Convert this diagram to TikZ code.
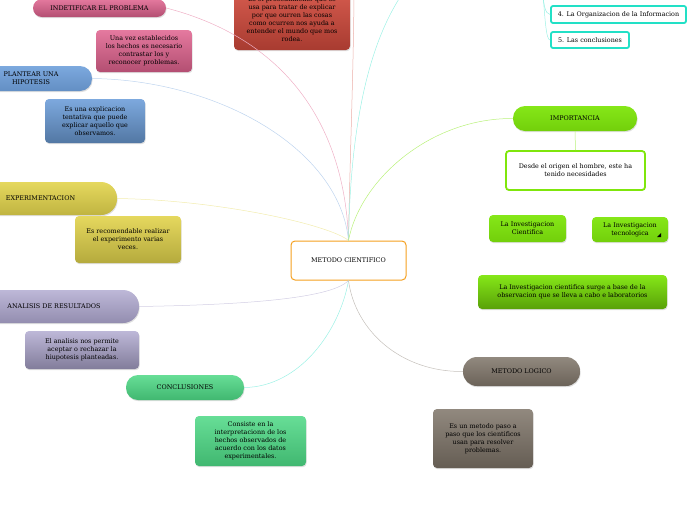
\documentclass[tikz,border=0pt]{standalone}
\usepackage{fontspec}
\setmainfont{DejaVu Serif}
\usetikzlibrary{shadows}

\definecolor{rosa}{HTML}{E0628E}
\definecolor{rojo}{HTML}{D24A3C}
\definecolor{azul}{HTML}{6E9FDA}
\definecolor{amarillo}{HTML}{E2D44C}
\definecolor{lila}{HTML}{ADA6CE}
\definecolor{verde}{HTML}{4CD884}
\definecolor{lima}{HTML}{7FE60C}
\definecolor{topo}{HTML}{7E7468}
\definecolor{turquesa}{HTML}{22E0C6}
\definecolor{naranja}{HTML}{F5A020}

\begin{document}
\begin{tikzpicture}[x=1pt,y=-1pt,
    font=\fontsize{6.4}{8}\selectfont,
    rama/.style={inner sep=0pt, align=center,
      drop shadow={opacity=0.25, shadow xshift=0.6pt, shadow yshift=-1.2pt}},
    detalle/.style={rama, rounded corners=4pt},
    hilo/.style={line width=0.5pt}]

    \useasboundingbox (0,0) rectangle (696,520);
    \clip (0,0) rectangle (696,520);

    % Connector anchors outside the page
    \coordinate (defin-in) at (354,-20);
    \coordinate (partes) at (542,-20);

    % Main node
    \node[draw=naranja, line width=1pt, fill=white, rounded corners=4pt,
          minimum width=115, minimum height=39, inner sep=0pt] (metodo) at (348.5,260.5) {METODO CIENTIFICO};

    % Left branches
    \node[rama, top color=rosa!85!white, bottom color=rosa!80!black, rounded corners=9pt,
          minimum width=133, minimum height=18] (ident) at (99.5,8) {INDETIFICAR EL PROBLEMA};
    \node[detalle, top color=rosa!85!white, bottom color=rosa!80!black,
          minimum width=96, minimum height=42] (hechos) at (144,51)
          {Una vez establecidos\\los hechos es necesario\\contrastar los y\\reconocer problemas.};

    \node[rama, top color=azul!90!white, bottom color=azul!90!black, rounded corners=12pt,
          minimum width=122, minimum height=25] (plantear) at (31,78.5) {PLANTEAR UNA\\HIPOTESIS};
    \node[detalle, top color=azul!90!white, bottom color=azul!75!black,
          minimum width=100, minimum height=44] (explicacion) at (95,121)
          {Es una explicacion\\tentativa que puede\\explicar aquello que\\observamos.};

    \node[rama, top color=amarillo!90!white, bottom color=amarillo!85!black, rounded corners=16pt,
          minimum width=153, minimum height=33] (exper) at (40.5,198.5) {EXPERIMENTACION};
    \node[detalle, top color=amarillo!90!white, bottom color=amarillo!80!black,
          minimum width=106, minimum height=47] (recomendable) at (128,239.5)
          {Es recomendable realizar\\el experimento varias\\veces.};

    \node[rama, top color=lila!80!white, bottom color=lila!85!black, rounded corners=16pt,
          minimum width=170, minimum height=33] (analisis) at (54,306.5) {ANALISIS DE RESULTADOS};
    \node[detalle, top color=lila!80!white, bottom color=lila!75!black,
          minimum width=114, minimum height=38] (permite) at (82,350)
          {El analisis nos permite\\aceptar o rechazar la\\hiupotesis planteadas.};

    \node[rama, top color=verde!85!white, bottom color=verde!85!black, rounded corners=12pt,
          minimum width=118, minimum height=25] (conclus) at (185,387.5) {CONCLUSIONES};
    \node[detalle, top color=verde!85!white, bottom color=verde!85!black,
          minimum width=111, minimum height=50] (consiste) at (250.5,441)
          {Consiste en la\\interpretacionn de los\\hechos observados de\\acuerdo con los datos\\experimentales.};

    % Top branches
    \node[detalle, top color=rojo!90!white, bottom color=rojo!80!black,
          minimum width=116, minimum height=62] (definicion) at (292,19)
          {Es el procedimiento que se\\usa para tratar de explicar\\por que ourren las cosas\\como ocurren nos ayuda a\\entender el mundo que mos\\rodea.};

    \node[draw=turquesa, line width=1.8pt, fill=white, rounded corners=2pt, inner sep=0pt,
          minimum width=135, minimum height=17] (org) at (618.5,14.5) {4. La Organizacion de la Informacion};
    \node[draw=turquesa, line width=1.8pt, fill=white, rounded corners=2pt, inner sep=0pt,
          minimum width=78, minimum height=16] (cincoc) at (590,40) {5. Las conclusiones};

    % Right branches
    \node[rama, top color=lima!95!white, bottom color=lima!90!black, rounded corners=12pt,
          minimum width=124, minimum height=25] (importancia) at (575,118.5) {IMPORTANCIA};
    \node[draw=lima, line width=1.8pt, fill=white, rounded corners=3pt, inner sep=0pt, align=center,
          minimum width=139, minimum height=39] (desde) at (575.5,170.5)
          {Desde el origen el hombre, este ha\\tenido necesidades};
    \node[detalle, top color=lima!95!white, bottom color=lima!90!black,
          minimum width=77, minimum height=27] (cientifica) at (527.5,228.5) {La Investigacion\\Cientifica};
    \node[detalle, top color=lima!95!white, bottom color=lima!90!black,
          minimum width=76, minimum height=25] (tecno) at (630,229.5) {La Investigacion\\tecnologica};
    \node[detalle, top color=lima!95!white, bottom color=lima!70!black,
          minimum width=189, minimum height=34] (surge) at (572.5,292)
          {La Investigacion cientifica surge a base de la\\observacion que se lleva a cabo e laboratorios};

    \node[rama, top color=topo!85!white, bottom color=topo!85!black, rounded corners=14pt,
          minimum width=117, minimum height=29] (logico) at (521.5,371.5) {METODO LOGICO};
    \node[detalle, top color=topo!85!white, bottom color=topo!80!black,
          minimum width=100, minimum height=59] (paso) at (483,438.5)
          {Es un metodo paso a\\paso que los cientificos\\usan para resolver\\problemas.};

    % Small marker
    \fill (657,237) -- (661,237) -- (661,233) -- cycle;

    % Connectors
    \draw[hilo, color=rosa!50!white] (metodo.north) .. controls (345,130) and (290,40) .. (ident.east);
    \draw[hilo, color=azul!45!white] (metodo.north) .. controls (340,150) and (220,80) .. (plantear.east);
    \draw[hilo, color=amarillo!45!white] (metodo.north) .. controls (330,225) and (220,200) .. (exper.east);
    \draw[hilo, color=rojo!45!white] (metodo.north) .. controls (350,150) and (354,60) .. (defin-in);
    \draw[hilo, color=turquesa!45!white] (metodo.north) .. controls (350,150) and (362,50) .. (405,-10);
    \draw[hilo, color=lima!55!white] (metodo.north) .. controls (360,180) and (430,118) .. (importancia.west);
    \draw[hilo, color=lila!55!white] (metodo.south) .. controls (330,300) and (230,305) .. (analisis.east);
    \draw[hilo, color=turquesa!45!white] (metodo.south) .. controls (340,330) and (300,387) .. (conclus.east);
    \draw[hilo, color=topo!45!white] (metodo.south) .. controls (355,330) and (400,372) .. (logico.west);
    \draw[hilo, color=turquesa!45!white] (partes) .. controls (543,5) and (545,14) .. (org.west);
    \draw[hilo, color=turquesa!45!white] (partes) .. controls (545,20) and (546,40) .. (cincoc.west);
    \draw[hilo, color=lima!55!white] (importancia.south) -- (desde.north);

\end{tikzpicture}
\end{document}
